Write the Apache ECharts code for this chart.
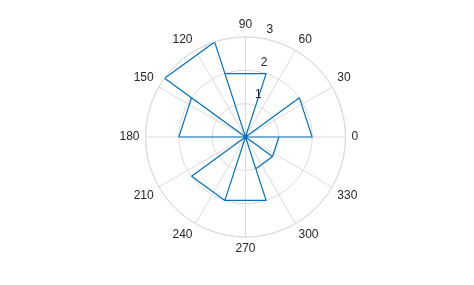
<!DOCTYPE html>
<html>
<head>
<meta charset="utf-8">
<script src="https://cdn.jsdelivr.net/npm/echarts@6/dist/echarts.min.js"></script>
<style>html,body{margin:0;padding:0;background:#fff}#c{width:474px;height:285px}</style>
</head>
<body>
<div id="c"></div>
<script>
// Bin edges (degrees) and counts per bin
var binEdges = [0, 36, 72, 108, 144, 180, 216, 252, 288, 324, 360];
var counts = [2, 0, 2, 3, 2, 0, 2, 2, 1, 1];
// Radial tick values and their label angle
var radialTicks = [1, 2, 3];
var radialLabelAngle = 80;

// Build rose-style path: center -> (c, e0) -> (c, e1) -> center
var roseData = [[0, 0]];
for (var i = 0; i < counts.length; i++) {
  if (counts[i] > 0) {
    roseData.push([counts[i], binEdges[i]]);
    roseData.push([counts[i], binEdges[i + 1]]);
  }
  roseData.push([0, binEdges[i + 1]]);
}
var tickData = radialTicks.map(function (r) { return [r, radialLabelAngle]; });

var chart = echarts.init(document.getElementById('c'), null, {renderer: 'canvas'});
var gridColor = '#dcdcdc';
var txt = {color: '#262626', fontSize: 12, fontFamily: 'Liberation Sans, Arial, sans-serif'};
chart.setOption({
  animation: false,
  backgroundColor: '#ffffff',
  polar: {center: [245.5, 137], radius: 100},
  angleAxis: {
    type: 'value', min: 0, max: 360, interval: 30, startAngle: 0, clockwise: false,
    axisLine: {show: true, lineStyle: {color: gridColor, width: 1}},
    axisTick: {show: false},
    splitLine: {show: true, lineStyle: {color: gridColor, width: 1}},
    axisLabel: Object.assign({margin: 6, formatter: function (v) { return v === 360 ? '' : String(v); }}, txt)
  },
  radiusAxis: {
    type: 'value', min: 0, max: 3, interval: 1,
    axisLine: {show: false}, axisTick: {show: false}, axisLabel: {show: false},
    splitLine: {show: true, lineStyle: {color: gridColor, width: 1}}
  },
  series: [
    {
      type: 'line', coordinateSystem: 'polar', data: roseData,
      showSymbol: false, symbol: 'none',
      lineStyle: {color: '#0072BD', width: 1.2}, z: 5
    },
    {
      type: 'scatter', coordinateSystem: 'polar', data: tickData,
      symbolSize: 0, silent: true,
      itemStyle: {opacity: 1, color: 'transparent'},
      label: Object.assign({show: true, position: 'inside', offset: [7, -9], opacity: 1,
        textBorderWidth: 0, textBorderColor: 'transparent',
        formatter: function (p) { return String(p.value[0]); }}, txt),
      z: 6
    }
  ]
});
</script>
</body>
</html>
